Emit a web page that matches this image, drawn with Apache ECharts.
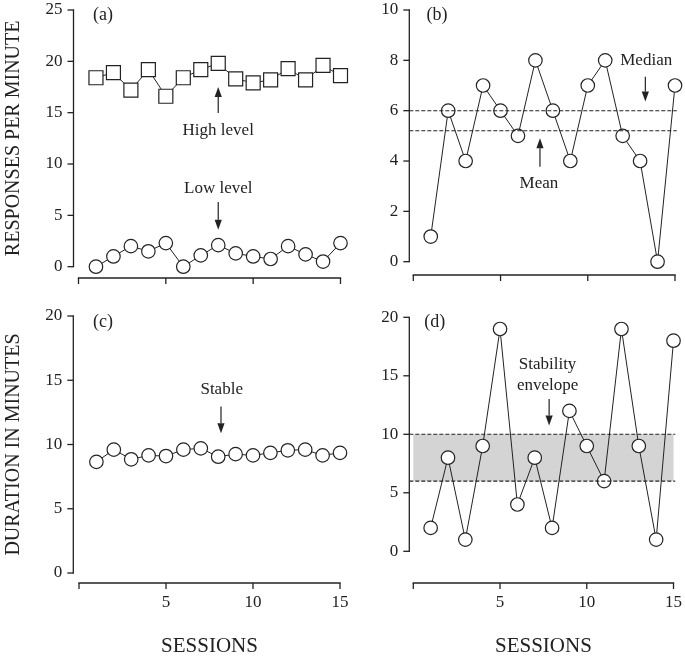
<!DOCTYPE html>
<html>
<head>
<meta charset="utf-8">
<script src="https://cdn.jsdelivr.net/npm/echarts@6/dist/echarts.min.js"></script>
<style>
html,body{margin:0;padding:0;background:#fff;}
#chart{width:685px;height:658px;background:#fff;}
</style>
</head>
<body>
<div id="chart"></div>
<script>
// ---- data ----
var sessions = [1,2,3,4,5,6,7,8,9,10,11,12,13,14,15];
var highLevel = [18.4,18.9,17.2,19.2,16.6,18.4,19.2,19.8,18.3,17.9,18.2,19.3,18.2,19.6,18.6];
var lowLevel = [0,1.0,2.0,1.5,2.3,0,1.1,2.1,1.3,1.0,0.75,2.0,1.2,0.5,2.3];
var panelB = [1,6,4,7,6,5,8,6,4,7,8,5,4,0,7];
var bMedian = 6;
var bMean = 5.2;
var panelC = [8.65,9.6,8.85,9.15,9.1,9.6,9.7,9.05,9.25,9.15,9.35,9.55,9.6,9.15,9.35];
var panelD = [2,8,1,9,19,4,8,2,12,9,6,19,9,1,18];
var envelopeLow = 6;
var envelopeHigh = 10;
var ticksA = [0,25,5];
var ticksB = [0,10,2];
var ticksC = [0,20,5];
var ticksD = [0,20,5];
var xTicks = [0,15,5];

var FONT = '"Liberation Serif","Times New Roman",serif';
var INK = '#222222';

function pairs(ys){ return sessions.map(function(s,i){ return [s, ys[i]]; }); }

function xAxis(idx, offset, showLabels){
  return {
    type:'value', gridIndex: idx, min:xTicks[0], max:xTicks[1], interval:xTicks[2],
    offset: offset,
    axisLine:{show:false, onZero:false},
    axisTick:{show:false},
    axisLabel:{show:showLabels, margin:11, color:INK, fontFamily:FONT, fontSize:17,
      formatter:function(v){ return v===0 ? '' : String(v); }},
    splitLine:{show:false},
    name: showLabels ? 'SESSIONS' : '',
    nameLocation:'middle', nameGap: 53,
    nameTextStyle:{color:INK, fontFamily:FONT, fontSize:21}
  };
}
function yAxis(idx, ticks, offset, name){
  return {
    type:'value', gridIndex: idx, min:ticks[0], max:ticks[1], interval:ticks[2],
    offset: offset,
    axisLine:{show:false, onZero:false},
    axisTick:{show:false},
    axisLabel:{show:true, margin:11, color:INK, fontFamily:FONT, fontSize:17},
    splitLine:{show:false},
    name: name || '',
    nameLocation:'middle', nameGap: 50, nameRotate:90,
    nameTextStyle:{color:INK, fontFamily:FONT, fontSize:20}
  };
}
function textPt(x, y, txt, size){
  return {coord:[x,y], symbol:'circle', symbolSize:0,
    itemStyle:{color:'rgba(0,0,0,0)'},
    label:{show:true, position:'inside', formatter:txt, color:INK, fontFamily:FONT,
      fontSize:size||17, lineHeight:21}};
}
function lineSeries(idx, data, symbol, size, mp, ma){
  var s = {
    type:'line', xAxisIndex: idx, yAxisIndex: idx, data: pairs(data),
    symbol: symbol, symbolSize: size, showAllSymbol:true,
    lineStyle:{color:INK, width:1},
    itemStyle:{color:'#fff', borderColor:INK, borderWidth:1.2},
    animation:false, z:3
  };
  if (mp) s.markPoint = {data: mp, animation:false};
  if (ma) s.markArea = ma;
  return s;
}

var yOffsets = [5, 4, 5.7, 4];
var xOffsets = [11.3, 13.3, 10, 31.7];
var yTickSets = [ticksA, ticksB, ticksC, ticksD];

var option = {
  grid:[
    {left:78.5, top:10, width:262, height:256.7},
    {left:413.3, top:10, width:261.7, height:251.7},
    {left:79, top:316, width:261, height:257.3},
    {left:413.3, top:317.3, width:261.7, height:235}
  ],
  xAxis:[ xAxis(0, xOffsets[0], false), xAxis(1, xOffsets[1], false), xAxis(2, xOffsets[2], true), xAxis(3, xOffsets[3], true) ],
  yAxis:[ yAxis(0, ticksA, yOffsets[0], 'RESPONSES PER MINUTE'), yAxis(1, ticksB, yOffsets[1]), yAxis(2, ticksC, yOffsets[2], 'DURATION IN MINUTES'), yAxis(3, ticksD, yOffsets[3]) ],
  series:[
    lineSeries(0, highLevel, 'rect', 14,
      [textPt(1.4, 24.5, '(a)', 18), textPt(8, 13.3, 'High level'), textPt(8, 7.6, 'Low level')]),
    lineSeries(0, lowLevel, 'circle', 13.5),
    lineSeries(1, panelB, 'circle', 13.5,
      [textPt(1.36, 9.8, '(b)', 18), textPt(13.35, 8.0, 'Median'), textPt(7.2, 3.1, 'Mean')]),
    lineSeries(2, panelC, 'circle', 13.5,
      [textPt(1.38, 19.5, '(c)', 18), textPt(8.2, 14.24, 'Stable')]),
    lineSeries(3, panelD, 'circle', 13.5,
      [textPt(1.24, 19.6, '(d)', 18), textPt(7.74, 15.05, 'Stability\nenvelope')],
      {itemStyle:{color:'#d4d4d4'}, data:[[{coord:[-0.2, envelopeLow]},{coord:[15.1, envelopeHigh]}]]})
  ]
};
var chart = echarts.init(document.getElementById('chart'));
chart.setOption(option);

// ---- axis lines, ticks, arrows and reference lines through the chart's own scales ----
function px(g, v){ return chart.convertToPixel({gridIndex:g}, v); }
var gfx = [];
// solid axis-aligned strokes drawn as thin filled rectangles
function bar(x1,y1,x2,y2,w){
  w = w || 1.3;
  var x, y, ww, hh;
  if (Math.abs(x1-x2) < 0.01){
    x = x1 - w/2; ww = w; y = Math.min(y1,y2); hh = Math.abs(y2-y1);
  } else {
    y = y1 - w/2; hh = w; x = Math.min(x1,x2); ww = Math.abs(x2-x1);
  }
  gfx.push({type:'rect', silent:true, z:20, shape:{x:x, y:y, width:ww, height:hh}, style:{fill:INK}});
}
function dashed(x1,y1,x2,y2,w){
  gfx.push({type:'line', silent:true, z:20,
    shape:{x1:x1,y1:y1,x2:x2,y2:y2},
    style:{stroke:INK, lineWidth:w||1.1, lineDash:[4,2]}});
}
for (var g=0; g<4; g++){
  var t = yTickSets[g];
  var p0 = px(g, [xTicks[0], t[0]]);
  var p1 = px(g, [xTicks[0], t[1]]);
  var ax = p0[0] - yOffsets[g];
  bar(ax, p0[1]+0.65, ax, p1[1]-0.65);
  for (var v=t[0]; v<=t[1]; v+=t[2]){
    var pv = px(g, [xTicks[0], v]);
    bar(ax-6, pv[1], ax, pv[1]);
  }
  var ay = p0[1] + xOffsets[g];
  var pe = px(g, [xTicks[1], t[0]]);
  bar(p0[0]-0.65, ay, pe[0]+0.65, ay);
  for (var u=xTicks[0]; u<=xTicks[1]; u+=xTicks[2]){
    var pu = px(g, [u, t[0]]);
    bar(pu[0], ay, pu[0], ay+6);
  }
}
function hline(g, y){
  var a = px(g, [xTicks[0], y]);
  var b = px(g, [15.1, y]);
  dashed(a[0]-yOffsets[g], a[1], b[0], b[1], 1.1);
}
function arrow(g, x, yBase, yTip){
  var a = px(g, [x, yBase]);
  var b = px(g, [x, yTip]);
  var dir = b[1] < a[1] ? 1 : -1;
  var headBase = b[1] + dir*10;
  bar(a[0], a[1], a[0], headBase, 1.2);
  gfx.push({type:'polygon', silent:true, z:20,
    shape:{points:[[b[0], b[1]], [b[0]-3.6, headBase], [b[0]+3.6, headBase]]},
    style:{fill:INK}});
}
hline(1, bMedian); hline(1, bMean);
hline(3, envelopeLow); hline(3, envelopeHigh);
arrow(0, 8, 14.97, 17.5);
arrow(0, 8, 6.3, 3.6);
arrow(1, 13.3, 7.35, 6.36);
arrow(1, 7.26, 3.77, 4.9);
arrow(2, 8.16, 12.95, 10.88);
arrow(3, 7.83, 13.02, 10.75);
chart.setOption({graphic: gfx});
</script>
</body>
</html>
